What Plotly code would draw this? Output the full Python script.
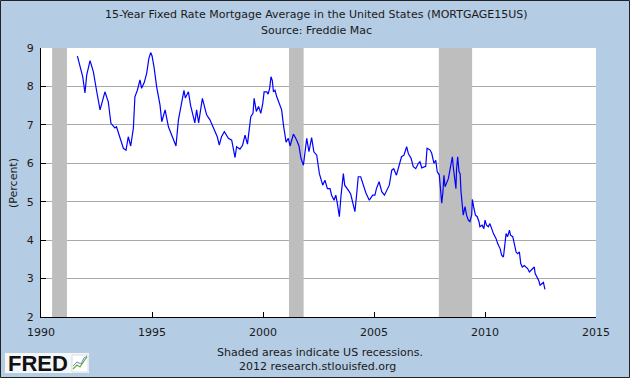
import plotly.graph_objects as go

# ---- data ----
years = [
    1991.64, 1991.76, 1991.88, 1991.98, 1992.06, 1992.21, 1992.36, 1992.50, 1992.66, 1992.88,
    1993.03, 1993.15, 1993.33, 1993.40, 1993.56, 1993.71, 1993.83, 1993.93, 1994.04, 1994.16,
    1994.23, 1994.34, 1994.46, 1994.53, 1994.65, 1994.76, 1994.86, 1994.94, 1995.00, 1995.09,
    1995.21, 1995.36, 1995.44, 1995.59, 1995.74, 1995.93, 1996.08, 1996.19, 1996.34, 1996.44,
    1996.50, 1996.64, 1996.74, 1996.86, 1996.93, 1997.01, 1997.10, 1997.27, 1997.36, 1997.46,
    1997.61, 1997.76, 1997.94, 1998.03, 1998.13, 1998.26, 1998.44, 1998.59, 1998.74, 1998.81,
    1998.96, 1999.08, 1999.19, 1999.30, 1999.38, 1999.45, 1999.55, 1999.60, 1999.70, 1999.80,
    1999.90, 1999.99, 2000.05, 2000.17, 2000.23, 2000.30, 2000.36, 2000.42, 2000.47, 2000.54,
    2000.62, 2000.74, 2000.84, 2000.92, 2000.99, 2001.04, 2001.14, 2001.22, 2001.37, 2001.44,
    2001.52, 2001.62, 2001.71, 2001.82, 2001.89, 2001.97, 2002.07, 2002.19, 2002.29, 2002.42,
    2002.54, 2002.69, 2002.79, 2002.90, 2003.02, 2003.09, 2003.20, 2003.28, 2003.35, 2003.44,
    2003.51, 2003.62, 2003.68, 2003.77, 2003.84, 2003.95, 2004.04, 2004.14, 2004.22, 2004.29,
    2004.40, 2004.50, 2004.64, 2004.79, 2004.94, 2005.04, 2005.11, 2005.23, 2005.35, 2005.47,
    2005.57, 2005.69, 2005.80, 2005.89, 2006.01, 2006.14, 2006.24, 2006.35, 2006.47, 2006.55,
    2006.67, 2006.77, 2006.88, 2007.00, 2007.07, 2007.15, 2007.33, 2007.39, 2007.52, 2007.60,
    2007.70, 2007.78, 2007.85, 2007.94, 2008.00, 2008.05, 2008.10, 2008.15, 2008.20, 2008.27,
    2008.35, 2008.42, 2008.47, 2008.53, 2008.57, 2008.65, 2008.69, 2008.72, 2008.77, 2008.83,
    2008.88, 2008.92, 2008.98, 2009.02, 2009.10, 2009.17, 2009.25, 2009.32, 2009.40, 2009.43,
    2009.50, 2009.57, 2009.65, 2009.73, 2009.77, 2009.87, 2009.95, 2010.00, 2010.07, 2010.15,
    2010.22, 2010.30, 2010.38, 2010.50, 2010.57, 2010.68, 2010.75, 2010.83, 2010.90, 2010.95,
    2011.02, 2011.10, 2011.15, 2011.25, 2011.32, 2011.40, 2011.47, 2011.55, 2011.61, 2011.68,
    2011.77, 2011.85, 2011.92, 2012.00, 2012.07, 2012.15, 2012.22, 2012.26, 2012.34, 2012.42,
    2012.48, 2012.55, 2012.63, 2012.70,
]
rates = [
    8.79, 8.51, 8.25, 7.83, 8.30, 8.67, 8.38, 7.90, 7.39, 7.86,
    7.60, 7.04, 6.92, 6.95, 6.69, 6.39, 6.34, 6.69, 6.45, 6.91,
    7.73, 7.90, 8.17, 7.95, 8.10, 8.34, 8.73, 8.88, 8.80, 8.51,
    7.99, 7.52, 7.08, 7.39, 6.95, 6.69, 6.45, 7.13, 7.60, 7.90,
    7.70, 7.86, 7.50, 7.21, 7.05, 7.39, 7.05, 7.69, 7.45, 7.26,
    7.13, 6.91, 6.69, 6.47, 6.69, 6.82, 6.65, 6.60, 6.15, 6.43,
    6.37, 6.47, 6.73, 6.50, 6.86, 7.21, 7.30, 7.69, 7.35, 7.48,
    7.30, 7.56, 7.86, 7.86, 7.80, 7.95, 8.25, 8.15, 7.86, 7.90,
    7.73, 7.56, 7.39, 7.00, 6.73, 6.55, 6.65, 6.45, 6.76, 6.70,
    6.60, 6.45, 6.13, 5.95, 6.34, 6.65, 6.30, 6.67, 6.30, 6.21,
    5.73, 5.43, 5.56, 5.34, 5.34, 5.17, 5.04, 5.17, 4.95, 4.61,
    5.13, 5.73, 5.43, 5.34, 5.30, 5.20, 4.95, 4.74, 5.20, 5.65,
    5.65, 5.45, 5.22, 5.04, 5.17, 5.17, 5.34, 5.52, 5.26, 5.17,
    5.30, 5.43, 5.82, 5.86, 5.69, 6.00, 6.17, 6.21, 6.43, 6.25,
    6.13, 5.91, 5.86, 6.00, 6.04, 5.88, 5.92, 6.39, 6.35, 6.26,
    6.00, 6.08, 5.78, 5.70, 5.30, 4.96, 5.22, 5.69, 5.39, 5.47,
    5.60, 5.82, 6.04, 6.17, 5.91, 5.56, 5.34, 5.86, 6.17, 5.78,
    5.73, 5.26, 4.87, 4.65, 4.87, 4.65, 4.52, 4.48, 4.65, 5.06,
    4.83, 4.65, 4.61, 4.48, 4.35, 4.39, 4.30, 4.52, 4.39, 4.35,
    4.43, 4.30, 4.17, 4.04, 3.91, 3.78, 3.61, 3.56, 3.91, 4.17,
    4.09, 4.26, 4.13, 4.09, 3.91, 3.69, 3.65, 3.69, 3.39, 3.30,
    3.34, 3.30, 3.26, 3.17, 3.21, 3.26, 3.30, 3.13, 3.04, 2.95,
    2.83, 2.87, 2.90, 2.72,
]
recession_starts = [1990.50, 2001.17, 2007.92]
recession_ends = [1991.17, 2001.83, 2009.42]
x_ticks = [1990, 1995, 2000, 2005, 2010, 2015]
y_ticks = [2, 3, 4, 5, 6, 7, 8, 9]

FONT = "DejaVu Sans"
BG = "#B4CCE4"

fig = go.Figure()
fig.add_trace(go.Scatter(x=years, y=rates, mode="lines",
                         line=dict(color="#0000FF", width=1.2),
                         hoverinfo="skip", showlegend=False))

for s, e in zip(recession_starts, recession_ends):
    fig.add_shape(type="rect", xref="x", yref="y", x0=s, x1=e, y0=2, y1=9,
                  fillcolor="#BEBEBE", line=dict(width=0), layer="between")

W, H = 630, 378
ml, mr, mt, mb = 41, 34, 48, 61
pw, ph = W - ml - mr, H - mt - mb

def px(x):
    return (x - ml) / pw

def py(y):
    return (H - mb - y) / ph

# outer dark border
fig.add_shape(type="rect", xref="paper", yref="paper",
              x0=px(0.5), x1=px(W - 0.5), y0=py(H - 0.5), y1=py(0.5),
              line=dict(color="#222222", width=1), fillcolor="rgba(0,0,0,0)", layer="above")

# FRED logo box
fig.add_shape(type="rect", xref="paper", yref="paper",
              x0=px(5), x1=px(89), y0=py(373), y1=py(353),
              line=dict(width=0), fillcolor="#F4F6F8", layer="above")
fig.add_shape(type="rect", xref="paper", yref="paper",
              x0=px(72), x1=px(88), y0=py(372), y1=py(355),
              line=dict(color="#D8DDE2", width=1), fillcolor="#FFFFFF", layer="above")
fig.add_shape(type="path", xref="paper", yref="paper",
              path=f"M {px(73)},{py(369)} L {px(77)},{py(365)} L {px(80)},{py(367)} L {px(84)},{py(361)} L {px(87)},{py(357)}",
              line=dict(color="#6AAA3A", width=1.2), layer="above")
fig.add_shape(type="path", xref="paper", yref="paper",
              path=f"M {px(73)},{py(366)} L {px(77)},{py(362)} L {px(81)},{py(364)} L {px(84)},{py(358)} L {px(87)},{py(356)}",
              line=dict(color="#5B8BC8", width=1), layer="above")

annotations = [
    dict(text="15-Year Fixed Rate Mortgage Average in the United States (MORTGAGE15US)",
         x=px(316), y=py(14), xref="paper", yref="paper", showarrow=False,
         xanchor="center", yanchor="middle", font=dict(family=FONT, size=11, color="#1a1a1a")),
    dict(text="Source: Freddie Mac",
         x=px(316), y=py(30), xref="paper", yref="paper", showarrow=False,
         xanchor="center", yanchor="middle", font=dict(family=FONT, size=11, color="#1a1a1a")),
    dict(text="(Percent)", textangle=-90,
         x=px(13), y=py(183), xref="paper", yref="paper", showarrow=False,
         xanchor="center", yanchor="middle", font=dict(family=FONT, size=11, color="#1a1a1a")),
    dict(text="Shaded areas indicate US recessions.",
         x=px(320), y=py(352), xref="paper", yref="paper", showarrow=False,
         xanchor="center", yanchor="middle", font=dict(family=FONT, size=11, color="#1a1a1a")),
    dict(text="2012 research.stlouisfed.org",
         x=px(317), y=py(366), xref="paper", yref="paper", showarrow=False,
         xanchor="center", yanchor="middle", font=dict(family=FONT, size=11, color="#1a1a1a")),
    dict(text="<b>FRED</b>",
         x=px(6), y=py(363.5), xref="paper", yref="paper", showarrow=False,
         xanchor="left", yanchor="middle",
         font=dict(family="Liberation Sans", size=22, color="#111111")),
]

fig.update_layout(
    width=W, height=H,
    margin=dict(l=ml, r=mr, t=mt, b=mb, pad=0),
    paper_bgcolor=BG, plot_bgcolor="#FFFFFF",
    font=dict(family=FONT, size=11, color="#1a1a1a"),
    annotations=annotations,
    xaxis=dict(range=[1990, 2015], tickvals=x_ticks, ticktext=[str(v) for v in x_ticks],
               ticks="inside", ticklen=5, tickcolor="#000000", tickwidth=1,
               ticklabelstandoff=5,
               showline=True, linecolor="#000000", linewidth=1, showgrid=False,
               zeroline=False, mirror=False, fixedrange=True),
    yaxis=dict(range=[2, 9], tickvals=y_ticks, ticktext=[str(v) for v in y_ticks],
               ticks="inside", ticklen=5, tickcolor="#000000", tickwidth=1,
               ticklabelstandoff=4,
               showline=True, linecolor="#000000", linewidth=1,
               showgrid=True, gridcolor="#AAAAAA", gridwidth=1,
               zeroline=False, mirror=False, fixedrange=True),
)

fig.write_html("out.html", config={"displayModeBar": False},
               post_script="document.body.style.margin='0';document.body.style.overflow='hidden';")
